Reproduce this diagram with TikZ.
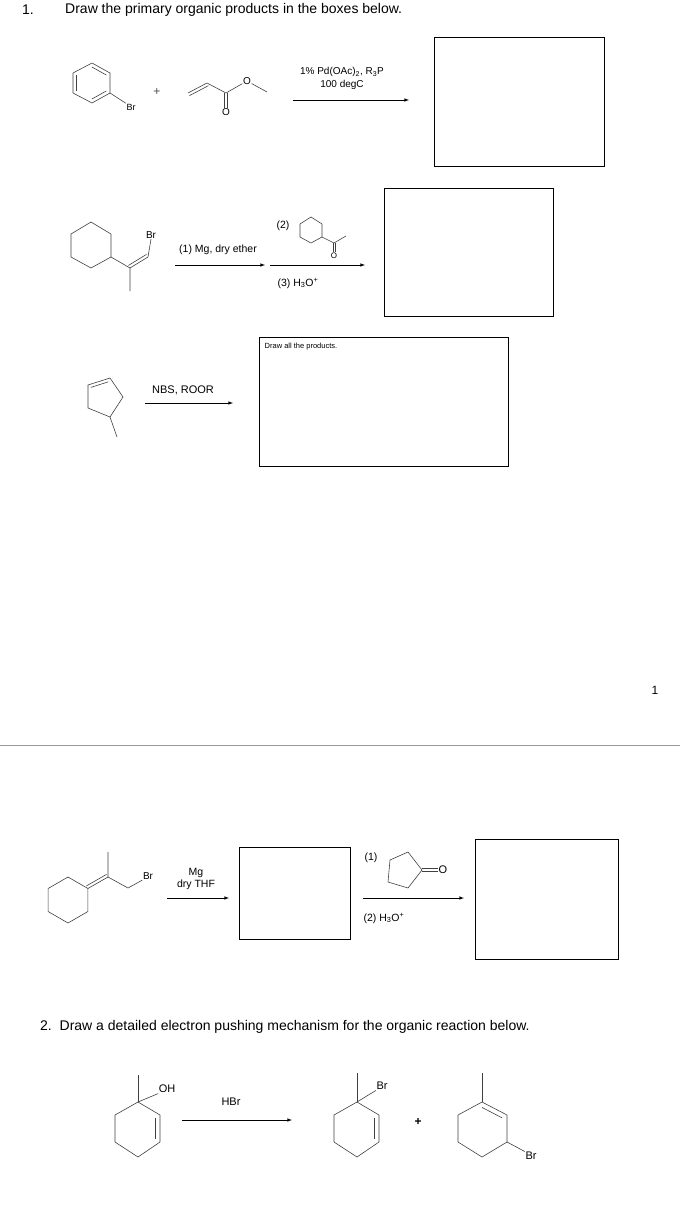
\documentclass[tikz,border=0pt]{standalone}
\usepackage{fontspec}
\setmainfont{Liberation Sans}
\usetikzlibrary{calc}
\begin{document}
\begin{tikzpicture}[x=1pt,y=-1pt,
  bond/.style={line width=0.6pt,draw=black!75},
  rxn/.style={line width=0.6pt,-latex},
  pbox/.style={draw,line width=0.6pt},
  lbl/.style={font=\fontsize{10.5}{12}\selectfont,inner sep=0.5pt},
  atom/.style={font=\fontsize{10}{11}\selectfont,inner sep=0.5pt,fill=white},
  head/.style={font=\fontsize{14}{16}\selectfont,anchor=west,inner sep=0}]
\useasboundingbox (0,0) rectangle (680,1218);
\newcommand{\ringdbl}[3]{\draw[bond] ($(#1)!0.2!(#3)$) -- ($(#2)!0.2!(#3)$);}
\newcommand{\sidedbl}[2]{\draw[bond] ($(#1)!3pt!-90:(#2)$) -- ($(#2)!3pt!90:(#1)$);}
% headings
\node[head] (n1) at (22,10) {1.};
\node[head] (t1) at (65,10) {Draw the primary organic products in the boxes below.};
% benzene
\coordinate (b1) at (92,63); \coordinate (b2) at (110,73); \coordinate (b3) at (110,93);
\coordinate (b4) at (92,103); \coordinate (b5) at (73,93); \coordinate (b6) at (73,73);
\coordinate (bc) at (91.5,83);
\draw[bond] (b1)--(b2)--(b3)--(b4)--(b5)--(b6)--cycle;
\ringdbl{b1}{b2}{bc}\ringdbl{b3}{b4}{bc}\ringdbl{b5}{b6}{bc}
\node[atom,font=\fontsize{9}{10}\selectfont] (br1) at (131,107) {Br};
\draw[bond] (b3) -- (br1.north west);
\node[font=\fontsize{12}{12}\selectfont,text=black!70] (plus1) at (157,92) {+};
% methyl acrylate
\coordinate (a1) at (188,93); \coordinate (a2) at (207,83); \coordinate (a3) at (226,93);
\node[atom] (ao) at (226,112) {O}; \node[atom] (ae) at (247,81) {O};
\coordinate (a4) at (267,92);
\draw[bond] (a1)--(a2)--(a3)--(ae)--(a4);
\sidedbl{a1}{a2}
\draw[bond] ($(a3)+(-1.5,0)$) -- ($(ao.north)+(-1.5,0)$);
\draw[bond] ($(a3)+(1.5,0)$) -- ($(ao.north)+(1.5,0)$);
\coordinate (r1s) at (293,100); \coordinate (r1e) at (409,100);
\draw[rxn] (r1s) -- (r1e);
\node[lbl,font=\fontsize{10}{11}\selectfont] (c1a) at (342,72) {1\% Pd(OAc)\textsubscript{2}, R\textsubscript{3}P};
\node[lbl,font=\fontsize{10}{11}\selectfont] (c1b) at (342,85) {100 degC};
\draw[pbox] (434,37) rectangle (604,166);
% row 2
\coordinate (h1) at (91,222); \coordinate (h2) at (111,234); \coordinate (h3) at (111,257);
\coordinate (h4) at (91,268); \coordinate (h5) at (71,257); \coordinate (h6) at (71,234);
\draw[bond] (h1)--(h2)--(h3)--(h4)--(h5)--(h6)--cycle;
\coordinate (v1) at (130,268); \coordinate (v2) at (148,257); \coordinate (vm) at (130,291);
\node[atom] (br2) at (151,235) {Br};
\draw[bond] (h3)--(v1)--(vm); \draw[bond] (v1)--(v2)--(br2.south);
\sidedbl{v2}{v1}
\draw[rxn] (175,265) -- (265,265);
\node[lbl] (c2a) at (218,250) {(1) Mg, dry ether};
\draw[rxn] (270,265) -- (365,265);
\node[lbl] (c2b) at (283,226) {(2)};
\node[lbl] (c2c) at (298,283) {(3) H\textsubscript{3}O\textsuperscript{+}};
\coordinate (k1) at (311,217); \coordinate (k2) at (322,224); \coordinate (k3) at (322,237);
\coordinate (k4) at (311,243); \coordinate (k5) at (300,237); \coordinate (k6) at (300,224);
\draw[bond] (k1)--(k2)--(k3)--(k4)--(k5)--(k6)--cycle;
\coordinate (kc) at (334,243); \coordinate (km) at (346,236);
\node[atom,font=\fontsize{8}{9}\selectfont] (ko) at (334,256) {O};
\draw[bond] (k3)--(kc)--(km);
\draw[bond] ($(kc)+(-1.2,0)$) -- ($(ko.north)+(-1.2,0)$);
\draw[bond] ($(kc)+(1.2,0)$) -- ($(ko.north)+(1.2,0)$);
\draw[pbox] (384,188) rectangle (553,316);
% row 3
\coordinate (p1) at (88,385); \coordinate (p2) at (110,378); \coordinate (p3) at (123,397);
\coordinate (p4) at (110,417); \coordinate (p5) at (88,408); \coordinate (pc) at (102,397);
\draw[bond] (p1)--(p2)--(p3)--(p4)--(p5)--cycle;
\ringdbl{p1}{p2}{pc}
\coordinate (pm) at (117,437); \draw[bond] (p4)--(pm);
\draw[rxn] (145,403) -- (233,403);
\node[lbl,font=\fontsize{11}{12}\selectfont] (c3) at (183,390) {NBS, ROOR};
\draw[pbox] (259,337) rectangle (508,466);
\node[lbl,font=\fontsize{7.5}{8}\selectfont,anchor=west] (c3b) at (264,347) {Draw all the products.};
% page marker
\node[font=\fontsize{12}{13}\selectfont] (pg) at (655,690) {1};
\draw[black!40,line width=0.8pt] (0,745) -- (680,745);
% section 2 first reaction
\coordinate (g0) at (68,900);
\foreach \i/\a in {1/30,2/90,3/150,4/210,5/270,6/330} {\coordinate (g\i) at ($(g0)+({23*cos(\a)},{-23*sin(\a)})$);}
\draw[bond] (g1)--(g2)--(g3)--(g4)--(g5)--(g6)--cycle;
\coordinate (e1) at (108,877); \coordinate (em) at (108,852); \coordinate (e2) at (128,888);
\node[atom] (br3) at (148,876) {Br};
\draw[bond] (g1)--(e1)--(em); \draw[bond] (e1)--(e2)--(br3.south west);
\sidedbl{e1}{g1}
\draw[rxn] (167,898) -- (229,898);
\node[lbl] (c4a) at (196,873) {Mg};
\node[lbl] (c4b) at (196,885) {dry THF};
\draw[pbox] (239,847) rectangle (350,939);
\node[lbl] (c5a) at (371,858) {(1)};
\coordinate (q1) at (390,860); \coordinate (q2) at (408,852); \coordinate (q3) at (422,870);
\coordinate (q4) at (408,888); \coordinate (q5) at (388,882);
\draw[bond] (q1)--(q2)--(q3)--(q4)--(q5)--cycle;
\node[atom,font=\fontsize{11}{12}\selectfont] (qo) at (443,870) {O};
\draw[bond] ($(q3)+(0,-1.3)$) -- ($(qo.west)+(0,-1.3)$);
\draw[bond] ($(q3)+(0,1.3)$) -- ($(qo.west)+(0,1.3)$);
\draw[rxn] (363,898) -- (464,898);
\node[lbl] (c5b) at (384,918) {(2) H\textsubscript{3}O\textsuperscript{+}};
\draw[pbox] (475,839) rectangle (618,959);
% part 2
\node[head] (t2) at (40,1027) {2.\ \ Draw a detailed electron pushing mechanism for the organic reaction below.};
% reactant
\coordinate (m1) at (138,1102); \coordinate (m2) at (160,1115); \coordinate (m3) at (160,1142);
\coordinate (m4) at (138,1157); \coordinate (m5) at (115,1142); \coordinate (m6) at (115,1115);
\coordinate (mc) at (138,1129); \coordinate (mm) at (138,1075);
\node[atom,font=\fontsize{11}{12}\selectfont] (oh) at (167,1089) {OH};
\draw[bond] (m1)--(m2)--(m3)--(m4)--(m5)--(m6)--cycle;
\draw[bond] (m1)--(mm); \draw[bond] (m1)--(oh.south west);
\ringdbl{m2}{m3}{mc}
\draw[rxn] (182,1120) -- (292,1120);
\node[lbl,font=\fontsize{11}{12}\selectfont] (c6) at (231,1102) {HBr};
% product 1
\coordinate (s1) at (357,1102); \coordinate (s2) at (379,1115); \coordinate (s3) at (379,1142);
\coordinate (s4) at (357,1157); \coordinate (s5) at (334,1142); \coordinate (s6) at (334,1115);
\coordinate (sc) at (357,1129); \coordinate (sm) at (357,1073);
\node[atom,font=\fontsize{11}{12}\selectfont] (br4) at (382,1086) {Br};
\draw[bond] (s1)--(s2)--(s3)--(s4)--(s5)--(s6)--cycle;
\draw[bond] (s1)--(sm); \draw[bond] (s1)--(br4.south west);
\ringdbl{s2}{s3}{sc}
\node[font=\fontsize{12}{12}\selectfont\bfseries] (plus2) at (418,1122) {+};
% product 2
\coordinate (u1) at (482,1102); \coordinate (u2) at (507,1115); \coordinate (u3) at (507,1142);
\coordinate (u4) at (482,1157); \coordinate (u5) at (458,1142); \coordinate (u6) at (458,1115);
\coordinate (uc) at (482,1129); \coordinate (um) at (482,1073);
\node[atom,font=\fontsize{11}{12}\selectfont] (br5) at (531,1156) {Br};
\draw[bond] (u1)--(u2)--(u3)--(u4)--(u5)--(u6)--cycle;
\draw[bond] (u1)--(um); \draw[bond] (u3)--(br5.north west);
\ringdbl{u1}{u2}{uc}
\end{tikzpicture}
\end{document}
